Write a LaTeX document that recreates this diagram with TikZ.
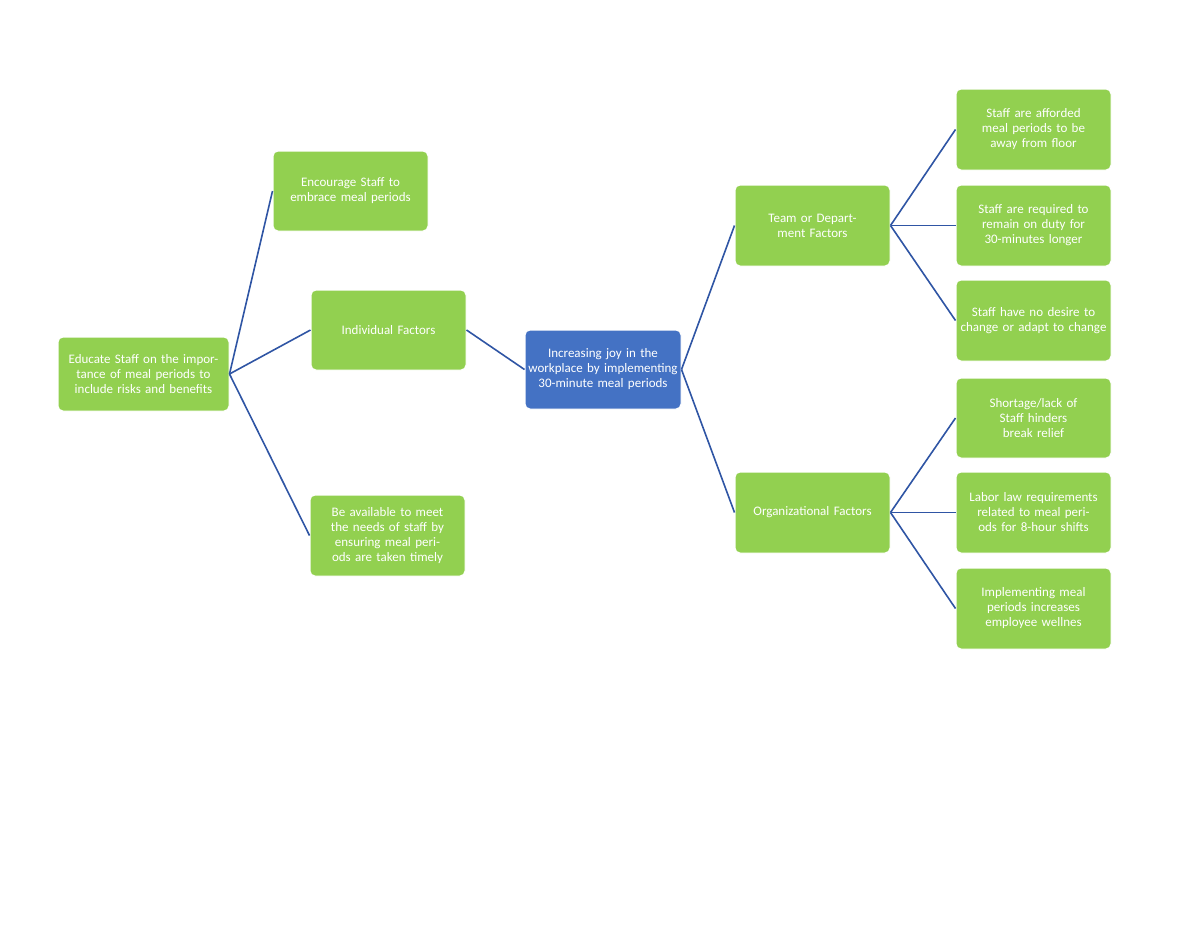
\documentclass[tikz,border=0pt]{standalone}
\usepackage{fontspec}
\setmainfont{Carlito}
\definecolor{gr}{HTML}{92D050}
\definecolor{bl}{HTML}{4472C4}
\definecolor{ln}{HTML}{2F55A4}
\begin{document}
\begin{tikzpicture}[x=1pt,y=-1pt,
 box/.style={fill=gr,draw=white,line width=1pt,rounded corners=5pt,text=white,align=center,font=\fontsize{13}{15}\selectfont,inner sep=2pt},
 con/.style={draw=ln,line width=1.6pt}]
\useasboundingbox (0,0) rectangle (1200,927);
\newcommand\bx[6]{\node[box,#6,minimum width=#3-#1,minimum height=#4-#2,text width=#3-#1-6] (#5) at ({(#1+#3)/2},{(#2+#4)/2}) {\strut};}
\def\B#1#2#3#4#5#6#7{\node[box,#6,minimum width=#3-#1,minimum height=#4-#2,text width=#3-#1-6,anchor=center] (#5) at ({(#1+#3)/2},{(#2+#4)/2}) {#7};}
\B{525}{330}{681}{409}{c}{fill=bl}{Increasing joy in the workplace by implementing 30-minute meal periods}
\B{311}{290}{466}{370}{ind}{}{Individual Factors}
\B{273}{151}{428}{231}{enc}{}{Encourage Staff to\\ embrace meal periods}
\B{58}{337}{229}{411}{edu}{}{Educate Staff on the importance of meal periods to include risks and benefits}
\B{310}{495}{465}{576}{av}{}{Be available to meet the needs of staff by ensuring meal periods are taken timely}
\B{735}{185}{890}{266}{team}{}{Team or Department Factors}
\B{735}{472}{890}{553}{org}{}{Organizational Factors}
\B{956}{89}{1111}{170}{r1}{}{Staff are afforded\\ meal periods to be\\ away from floor}
\B{956}{185}{1111}{266}{r2}{}{Staff are required to remain on duty for 30-minutes longer}
\B{956}{280}{1111}{361}{r3}{}{Staff have no desire to change or adapt to change}
\B{956}{378}{1111}{458}{r4}{}{Shortage/lack of\\ Staff hinders\\ break relief}
\B{956}{472}{1111}{553}{r5}{}{Labor law requirements related to meal periods for 8-hour shifts}
\B{956}{568}{1111}{649}{r6}{}{Implementing meal periods increases employee wellnes}
\draw[con] (c.west) -- (ind.east);
\draw[con] (ind.west) -- (edu.east);
\draw[con] (edu.east) -- (enc.west);
\draw[con] (edu.east) -- (av.west);
\draw[con] (c.east) -- (team.west);
\draw[con] (c.east) -- (org.west);
\foreach \r in {r1,r2,r3} \draw[con] (team.east) -- (\r.west);
\foreach \r in {r4,r5,r6} \draw[con] (org.east) -- (\r.west);
\end{tikzpicture}
\end{document}
